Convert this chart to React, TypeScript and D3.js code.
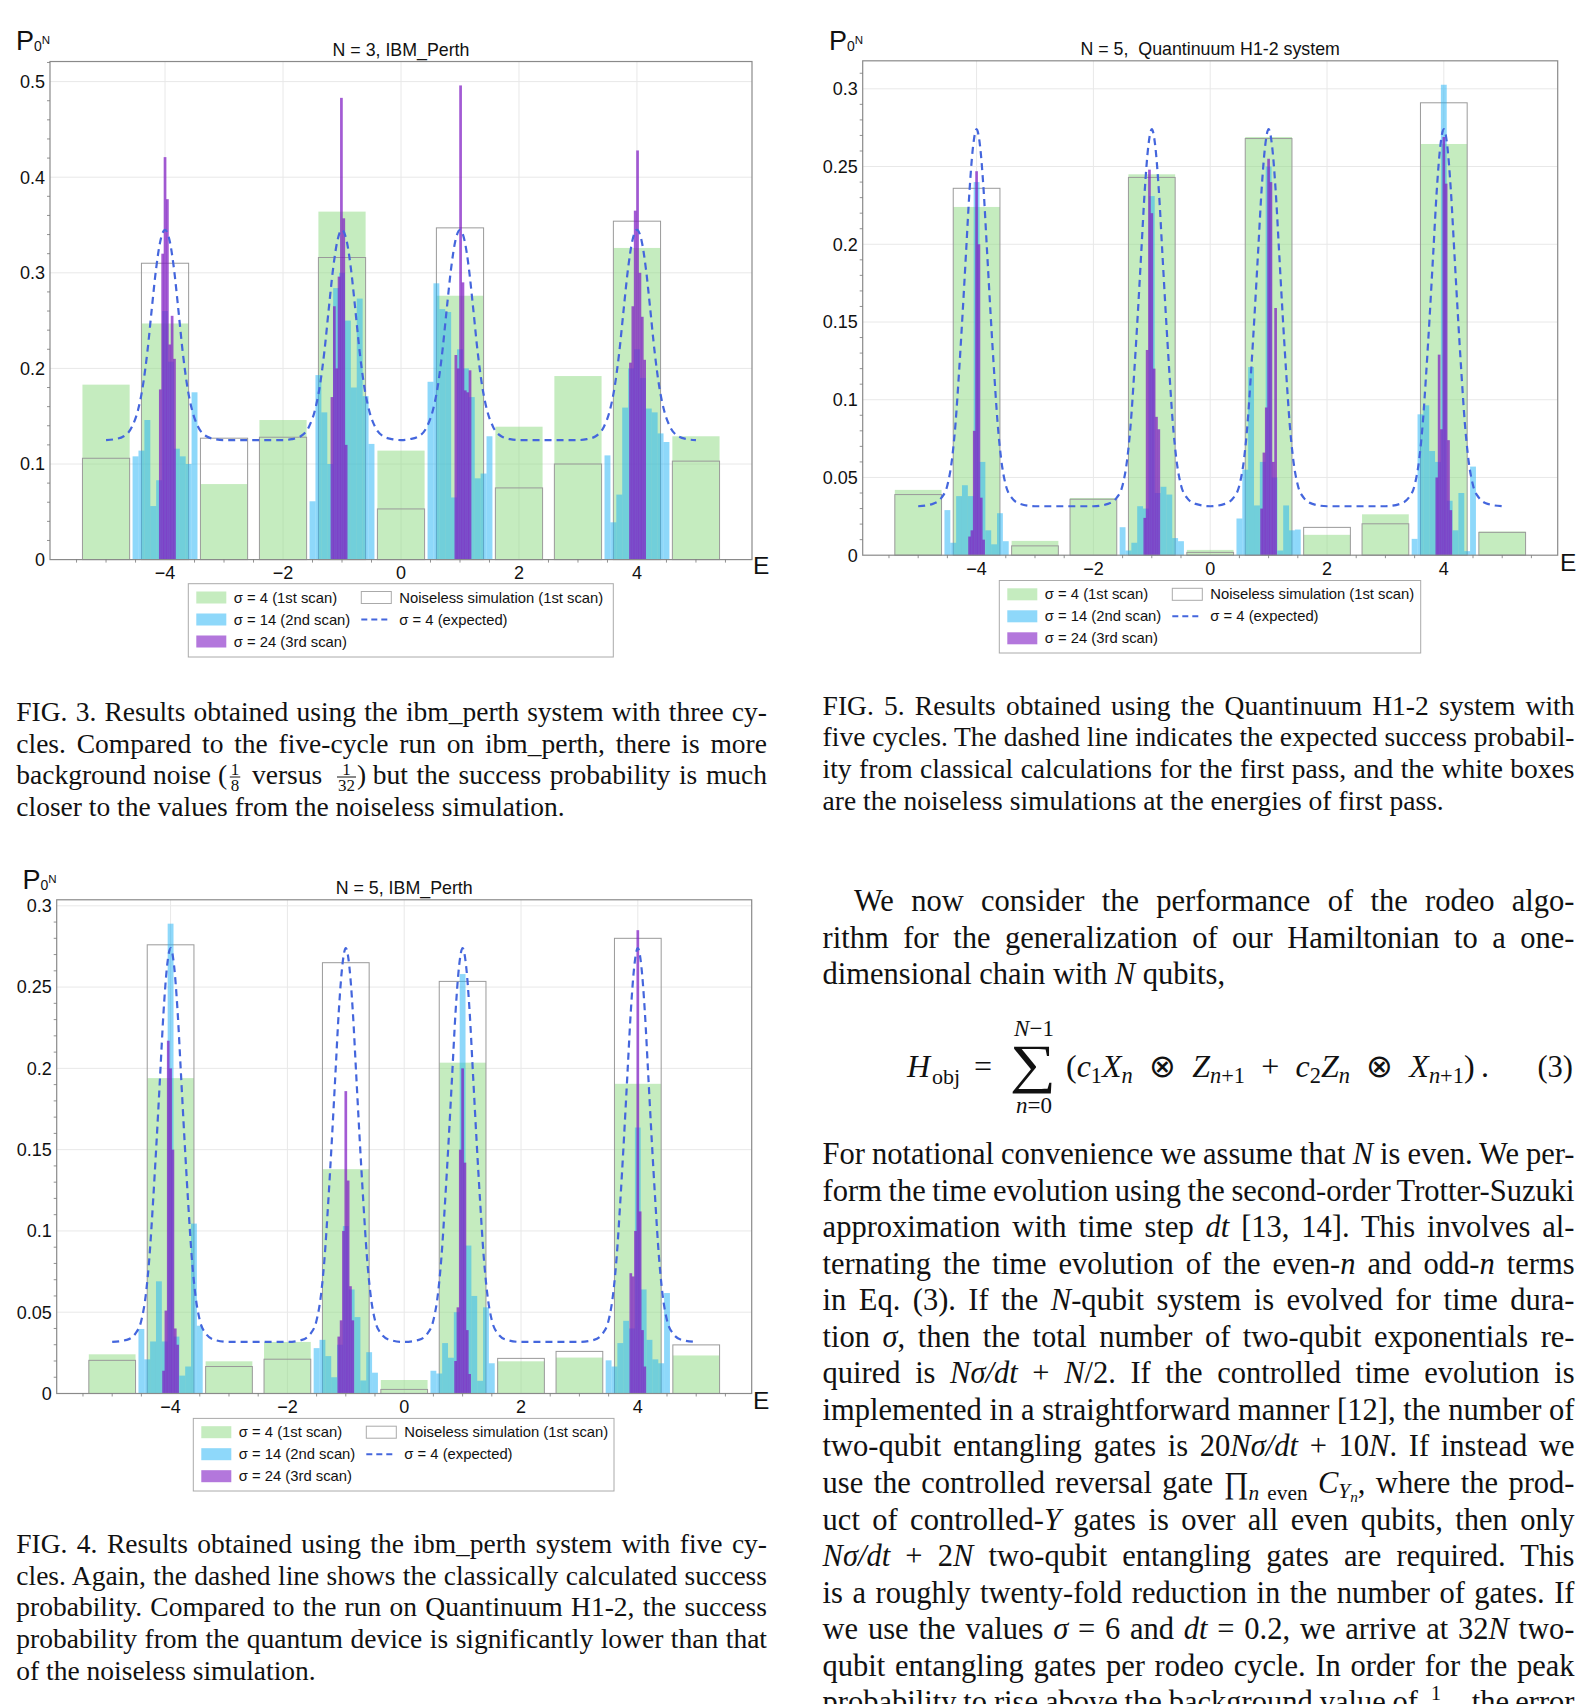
import React, { useLayoutEffect, useRef } from "react";
import * as d3 from "d3";

const PAGE_W = 1594;
const PAGE_H = 1704;

// ------------------------------------------------------------------ data
const BIN_CENTERS = [-5, -4, -3, -2, -1, 0, 1, 2, 3, 4, 5];
const PEAKS = [-4, -1, 1, 4];
const SCAN2_OFFSETS = [-0.5, -0.4, -0.3, -0.2, -0.1, 0, 0.1, 0.2, 0.3, 0.4, 0.5];
const X_TICKS = [-4, -2, 0, 2, 4];
const LEGEND_LABELS = [
  "σ = 4 (1st scan)",
  "σ = 14 (2nd scan)",
  "σ = 24 (3rd scan)",
  "Noiseless simulation (1st scan)",
  "σ = 4 (expected)",
];

// FIG. 3  (N = 3, IBM_Perth)
const F3_SCAN1 = [0.183, 0.247, 0.079, 0.146, 0.364, 0.114, 0.276, 0.139, 0.192, 0.326, 0.129];
const F3_NOISELESS = [0.106, 0.31, 0.127, 0.128, 0.316, 0.053, 0.347, 0.075, 0.1, 0.354, 0.103];
const F3_SCAN2 = [
  [0.108, 0.114, 0.146, 0.056, 0.083, 0.26, 0.207, 0.116, 0.108, 0.1, 0.175],
  [0.061, 0.193, 0.154, 0.1, 0.284, 0.3, 0.25, 0.18, 0.273, 0.171, 0.121],
  [0.186, 0.289, 0.262, 0.259, 0.065, 0.22, 0.2, 0.17, 0.085, 0.09, 0.129],
  [0.109, 0.039, 0.068, 0.159, 0.2, 0.22, 0.19, 0.158, 0.154, 0.132, 0.123],
];
const F3_SCAN3_E = [
  [-4.08, -4.04, -4.0, -3.96, -3.92, -3.88, -3.84],
  [-1.17, -1.13, -1.09, -1.05, -1.01, -0.97, -0.93],
  [0.93, 0.97, 1.01, 1.05, 1.09, 1.13, 1.17],
  [3.89, 3.93, 3.97, 4.01, 4.05, 4.09, 4.13],
];
const F3_SCAN3_P = [
  [0.178, 0.32, 0.421, 0.377, 0.225, 0.255, 0.21],
  [0.17, 0.265, 0.2, 0.296, 0.483, 0.357, 0.12],
  [0.214, 0.2, 0.496, 0.29, 0.177, 0.175, 0.198],
  [0.206, 0.265, 0.365, 0.428, 0.3, 0.254, 0.209],
];
const F3_EXPECTED = [
  [-5.0, 0.125], [-4.85, 0.126], [-4.7, 0.129], [-4.56, 0.139], [-4.46, 0.156], [-4.38, 0.18],
  [-4.3, 0.217], [-4.22, 0.265], [-4.15, 0.305], [-4.08, 0.333], [-4.0, 0.345], [-3.92, 0.333],
  [-3.85, 0.305], [-3.78, 0.265], [-3.7, 0.217], [-3.62, 0.18], [-3.54, 0.156], [-3.44, 0.139],
  [-3.3, 0.129], [-3.15, 0.126], [-3.0, 0.125], [-2.0, 0.125], [-1.85, 0.126], [-1.7, 0.129],
  [-1.56, 0.139], [-1.46, 0.156], [-1.38, 0.18], [-1.3, 0.217], [-1.22, 0.265], [-1.15, 0.305],
  [-1.08, 0.333], [-1.0, 0.345], [-0.92, 0.333], [-0.85, 0.305], [-0.78, 0.265], [-0.7, 0.217],
  [-0.62, 0.18], [-0.54, 0.156], [-0.44, 0.139], [-0.3, 0.129], [-0.15, 0.126], [0.0, 0.125],
  [0.15, 0.126], [0.3, 0.129], [0.44, 0.139], [0.54, 0.156], [0.62, 0.18], [0.7, 0.217],
  [0.78, 0.265], [0.85, 0.305], [0.92, 0.333], [1.0, 0.345], [1.08, 0.333], [1.15, 0.305],
  [1.22, 0.265], [1.3, 0.217], [1.38, 0.18], [1.46, 0.156], [1.56, 0.139], [1.7, 0.129],
  [1.85, 0.126], [2.0, 0.125], [3.0, 0.125], [3.15, 0.126], [3.3, 0.129], [3.44, 0.139],
  [3.54, 0.156], [3.62, 0.18], [3.7, 0.217], [3.78, 0.265], [3.85, 0.305], [3.92, 0.333],
  [4.0, 0.345], [4.08, 0.333], [4.15, 0.305], [4.22, 0.265], [4.3, 0.217], [4.38, 0.18],
  [4.46, 0.156], [4.56, 0.139], [4.7, 0.129], [4.85, 0.126], [5.0, 0.125],
];

// FIG. 5  (N = 5, Quantinuum H1-2)
const F5_SCAN1 = [0.042, 0.224, 0.0092, 0.0368, 0.245, 0.0034, 0.269, 0.0131, 0.0263, 0.2645, 0.0152];
const F5_NOISELESS = [0.039, 0.236, 0.006, 0.036, 0.243, 0.0018, 0.268, 0.0179, 0.0202, 0.291, 0.0147];
const F5_SCAN2 = [
  [0.029, 0.008, 0.038, 0.045, 0.038, 0.24, 0.06, 0.016, 0.007, 0.027, 0.009],
  [0.018, 0.003, 0.008, 0.0315, 0.03, 0.231, 0.04, 0.044, 0.039, 0.011, 0.009],
  [0.0236, 0.055, 0.121, 0.032, 0.06, 0.25, 0.05, 0.003, 0.032, 0.016, 0.0165],
  [0.0105, 0.0906, 0.0964, 0.067, 0.06, 0.3026, 0.035, 0.016, 0.04, 0.0026, 0.057],
];
const F5_SCAN3_E = [
  [-4.12, -4.08, -4.04, -4.0, -3.96, -3.92, -3.88],
  [-1.12, -1.08, -1.04, -1.0, -0.96, -0.92, -0.88],
  [0.88, 0.92, 0.96, 1.0, 1.04, 1.08, 1.12],
  [3.88, 3.92, 3.96, 4.0, 4.04, 4.08, 4.12],
];
const F5_SCAN3_P = [
  [0.012, 0.016, 0.08, 0.247, 0.2, 0.037, 0.01],
  [0.024, 0.132, 0.248, 0.22, 0.12, 0.089, 0.081],
  [0.03, 0.066, 0.095, 0.255, 0.24, 0.06, 0.159],
  [0.05, 0.129, 0.081, 0.269, 0.239, 0.074, 0.029],
];
const F5_EXPECTED = [
  [-5.0, 0.0315], [-4.75, 0.033], [-4.6, 0.037], [-4.5, 0.045], [-4.42, 0.062], [-4.36, 0.085],
  [-4.3, 0.118], [-4.24, 0.155], [-4.18, 0.195], [-4.12, 0.235], [-4.06, 0.263], [-4.0, 0.274],
  [-3.94, 0.263], [-3.88, 0.235], [-3.82, 0.195], [-3.76, 0.155], [-3.7, 0.118], [-3.64, 0.085],
  [-3.58, 0.062], [-3.5, 0.045], [-3.4, 0.037], [-3.25, 0.033], [-3.0, 0.0315], [-2.0, 0.0315],
  [-1.75, 0.033], [-1.6, 0.037], [-1.5, 0.045], [-1.42, 0.062], [-1.36, 0.085], [-1.3, 0.118],
  [-1.24, 0.155], [-1.18, 0.195], [-1.12, 0.235], [-1.06, 0.263], [-1.0, 0.274], [-0.94, 0.263],
  [-0.88, 0.235], [-0.82, 0.195], [-0.76, 0.155], [-0.7, 0.118], [-0.64, 0.085], [-0.58, 0.062],
  [-0.5, 0.045], [-0.4, 0.037], [-0.25, 0.033], [0.0, 0.0315], [0.25, 0.033], [0.4, 0.037],
  [0.5, 0.045], [0.58, 0.062], [0.64, 0.085], [0.7, 0.118], [0.76, 0.155], [0.82, 0.195],
  [0.88, 0.235], [0.94, 0.263], [1.0, 0.274], [1.06, 0.263], [1.12, 0.235], [1.18, 0.195],
  [1.24, 0.155], [1.3, 0.118], [1.36, 0.085], [1.42, 0.062], [1.5, 0.045], [1.6, 0.037],
  [1.75, 0.033], [2.0, 0.0315], [3.0, 0.0315], [3.25, 0.033], [3.4, 0.037], [3.5, 0.045],
  [3.58, 0.062], [3.64, 0.085], [3.7, 0.118], [3.76, 0.155], [3.82, 0.195], [3.88, 0.235],
  [3.94, 0.263], [4.0, 0.274], [4.06, 0.263], [4.12, 0.235], [4.18, 0.195], [4.24, 0.155],
  [4.3, 0.118], [4.36, 0.085], [4.42, 0.062], [4.5, 0.045], [4.6, 0.037], [4.75, 0.033],
  [5.0, 0.0315],
];

// FIG. 4  (N = 5, IBM_Perth)
const F4_SCAN1 = [0.0241, 0.194, 0.0198, 0.0317, 0.138, 0.0083, 0.2035, 0.0198, 0.0221, 0.1905, 0.0234];
const F4_NOISELESS = [0.0204, 0.276, 0.0166, 0.0211, 0.265, 0.0025, 0.2535, 0.0216, 0.0259, 0.28, 0.0299];
const F4_SCAN2 = [
  [0.0397, 0.021, 0.032, 0.069, 0.032, 0.289, 0.035, 0.011, 0.0166, 0.1045, 0.0417],
  [0.0279, 0.033, 0.023, 0.01, 0.03, 0.103, 0.064, 0.047, 0.008, 0.0254, 0.0128],
  [0.014, 0.0123, 0.031, 0.022, 0.05, 0.258, 0.091, 0.06, 0.0078, 0.053, 0.0186],
  [0.0204, 0.0166, 0.031, 0.0447, 0.04, 0.1636, 0.064, 0.033, 0.021, 0.0186, 0.0618],
];
const F4_SCAN3_E = [
  [-4.12, -4.08, -4.04, -4.0, -3.96, -3.92, -3.88],
  [-1.12, -1.08, -1.04, -1.0, -0.96, -0.92, -0.88],
  [0.88, 0.92, 0.96, 1.0, 1.04, 1.08, 1.12],
  [3.88, 3.92, 3.96, 4.0, 4.04, 4.08, 4.12],
];
const F4_SCAN3_P = [
  [0.014, 0.051, 0.217, 0.2, 0.15, 0.04, 0.03],
  [0.035, 0.045, 0.1, 0.186, 0.131, 0.066, 0.045],
  [0.02, 0.053, 0.15, 0.2, 0.142, 0.039, 0.012],
  [0.074, 0.072, 0.1, 0.285, 0.112, 0.039, 0.0166],
];
const F4_EXPECTED = [
  [-5.0, 0.0317], [-4.75, 0.033], [-4.6, 0.037], [-4.5, 0.045], [-4.42, 0.062], [-4.36, 0.085],
  [-4.3, 0.118], [-4.24, 0.155], [-4.18, 0.195], [-4.12, 0.235], [-4.06, 0.263], [-4.0, 0.274],
  [-3.94, 0.263], [-3.88, 0.235], [-3.82, 0.195], [-3.76, 0.155], [-3.7, 0.118], [-3.64, 0.085],
  [-3.58, 0.062], [-3.5, 0.045], [-3.4, 0.037], [-3.25, 0.033], [-3.0, 0.0317], [-2.0, 0.0317],
  [-1.75, 0.033], [-1.6, 0.037], [-1.5, 0.045], [-1.42, 0.062], [-1.36, 0.085], [-1.3, 0.118],
  [-1.24, 0.155], [-1.18, 0.195], [-1.12, 0.235], [-1.06, 0.263], [-1.0, 0.274], [-0.94, 0.263],
  [-0.88, 0.235], [-0.82, 0.195], [-0.76, 0.155], [-0.7, 0.118], [-0.64, 0.085], [-0.58, 0.062],
  [-0.5, 0.045], [-0.4, 0.037], [-0.25, 0.033], [0.0, 0.0317], [0.25, 0.033], [0.4, 0.037],
  [0.5, 0.045], [0.58, 0.062], [0.64, 0.085], [0.7, 0.118], [0.76, 0.155], [0.82, 0.195],
  [0.88, 0.235], [0.94, 0.263], [1.0, 0.274], [1.06, 0.263], [1.12, 0.235], [1.18, 0.195],
  [1.24, 0.155], [1.3, 0.118], [1.36, 0.085], [1.42, 0.062], [1.5, 0.045], [1.6, 0.037],
  [1.75, 0.033], [2.0, 0.0317], [3.0, 0.0317], [3.25, 0.033], [3.4, 0.037], [3.5, 0.045],
  [3.58, 0.062], [3.64, 0.085], [3.7, 0.118], [3.76, 0.155], [3.82, 0.195], [3.88, 0.235],
  [3.94, 0.263], [4.0, 0.274], [4.06, 0.263], [4.12, 0.235], [4.18, 0.195], [4.24, 0.155],
  [4.3, 0.118], [4.36, 0.085], [4.42, 0.062], [4.5, 0.045], [4.6, 0.037], [4.75, 0.033],
  [5.0, 0.0317],
];

const Y_TICKS_A = [0, 0.1, 0.2, 0.3, 0.4, 0.5];
const Y_TICKS_B = [0, 0.05, 0.1, 0.15, 0.2, 0.25, 0.3];

// ------------------------------------------------------------------ styles
const SANS = "'Liberation Sans', Arial, Helvetica, sans-serif";
const SERIF = "'Liberation Serif', 'Times New Roman', Times, serif";
const GREEN = "rgb(140,218,128)";
const GREEN_OP = 0.5;
const BLUE = "rgb(30,178,245)";
const BLUE_OP = 0.5;
const PURPLE = "rgb(128,28,196)";
const PURPLE_OP = 0.72;
const DASH = "#4466dd";
const GRAY = "#9a9a9a";

const GREEN_W = 0.8;
const BLUE_W = 0.1;
const PURPLE_W = 0.046;

type Spec = {
  title: string;
  x0: number;
  x1: number;
  yBottom: number;
  yRefPx: number;
  yRefVal: number;
  yTopVal: number;
  yTicks: number[];
  yMinorStep: number;
  scan1: number[];
  noiseless: number[];
  scan2: number[][];
  scan3E: number[][];
  scan3P: number[][];
  expected: number[][];
  pLabel: [number, number];
  eLabel: [number, number];
  legend: [number, number, number, number];
};

function fmtY(v: number) {
  if (v === 0) return "0";
  return String(+v.toFixed(2));
}
function fmtX(v: number) {
  return v < 0 ? "\u2212" + Math.abs(v) : String(v);
}

function Chart({ s }: { s: Spec }) {
  const xs = d3.scaleLinear().domain([-5.95, 5.95]).range([s.x0, s.x1]);
  const ys = d3.scaleLinear().domain([0, s.yRefVal]).range([s.yBottom, s.yRefPx]);
  const yTop = ys(s.yTopVal);
  const y0 = ys(0);
  const line = d3
    .line<number[]>()
    .x((d) => xs(d[0]))
    .y((d) => ys(d[1]))
    .curve(d3.curveMonotoneX);
  const minorY = d3.range(s.yMinorStep, s.yTopVal, s.yMinorStep).filter(
    (v) => !s.yTicks.some((t) => Math.abs(t - v) < 1e-6)
  );
  const minorX = d3.range(-5.5, 5.51, 0.5).filter((v) => {
    const r = Math.round(v);
    return Math.abs(r - v) > 1e-6 || r % 2 !== 0;
  });
  const bar = (c: number, w: number, v: number) => ({
    x: xs(c - w / 2),
    w: xs(c + w / 2) - xs(c - w / 2),
    y: ys(v),
    h: y0 - ys(v),
  });
  const cx = xs(0);
  const [lx, ly, lw, lh] = s.legend;
  const rows = [ly + 13.8, ly + 35.8, ly + 57.8];
  return (
    <g>
      {X_TICKS.map((t) => (
        <line key={"gx" + t} x1={xs(t)} x2={xs(t)} y1={yTop} y2={y0} stroke="#e8e8e8" strokeWidth={1} />
      ))}
      {s.yTicks
        .filter((t) => t > 0)
        .map((t) => (
          <line key={"gy" + t} x1={s.x0} x2={s.x1} y1={ys(t)} y2={ys(t)} stroke="#e8e8e8" strokeWidth={1} />
        ))}
      {BIN_CENTERS.map((c, i) => {
        const b = bar(c, GREEN_W, s.scan1[i]);
        return <rect key={"g" + i} x={b.x} y={b.y} width={b.w} height={b.h} fill={GREEN} fillOpacity={GREEN_OP} />;
      })}
      {BIN_CENTERS.map((c, i) => {
        const b = bar(c, GREEN_W, s.noiseless[i]);
        return (
          <rect key={"n" + i} x={b.x} y={b.y} width={b.w} height={b.h} fill="none" stroke={GRAY} strokeWidth={1} />
        );
      })}
      {PEAKS.map((p, k) =>
        SCAN2_OFFSETS.map((o, i) => {
          const b = bar(p + o, BLUE_W, s.scan2[k][i]);
          return (
            <rect key={"b" + k + "_" + i} x={b.x} y={b.y} width={b.w} height={b.h} fill={BLUE} fillOpacity={BLUE_OP} />
          );
        })
      )}
      {s.scan3E.map((es, k) =>
        es.map((e, i) => {
          const b = bar(e, PURPLE_W, s.scan3P[k][i]);
          return (
            <rect
              key={"p" + k + "_" + i}
              x={b.x}
              y={b.y}
              width={b.w}
              height={b.h}
              fill={PURPLE}
              fillOpacity={PURPLE_OP}
            />
          );
        })
      )}
      <path d={line(s.expected) || ""} fill="none" stroke={DASH} strokeWidth={2.2} strokeDasharray="7,5" />
      <rect x={s.x0} y={yTop} width={s.x1 - s.x0} height={y0 - yTop} fill="none" stroke="#8a8a8a" strokeWidth={1.2} />
      {minorY.map((v) => (
        <line key={"my" + v} x1={s.x0 - 3} x2={s.x0} y1={ys(v)} y2={ys(v)} stroke="#777" strokeWidth={0.8} />
      ))}
      {minorX.map((v) => (
        <line key={"mx" + v} x1={xs(v)} x2={xs(v)} y1={y0} y2={y0 + 3} stroke="#777" strokeWidth={0.8} />
      ))}
      {s.yTicks.map((t) => (
        <text
          key={"ty" + t}
          x={s.x0 - 5}
          y={ys(t)}
          dy="0.35em"
          textAnchor="end"
          fontFamily={SANS}
          fontSize={18}
          fill="#111"
        >
          {fmtY(t)}
        </text>
      ))}
      {X_TICKS.map((t) => (
        <text key={"tx" + t} x={xs(t)} y={y0 + 19.5} textAnchor="middle" fontFamily={SANS} fontSize={18} fill="#111">
          {fmtX(t)}
        </text>
      ))}
      <text x={cx} y={yTop - 5.5} textAnchor="middle" fontFamily={SANS} fontSize={17.8} fill="#111" xmlSpace="preserve">
        {s.title}
      </text>
      <text x={s.pLabel[0]} y={s.pLabel[1]} fontFamily={SANS} fontSize={27} fill="#111">
        P
        <tspan fontSize={14} dy={1}>
          0
        </tspan>
        <tspan fontSize={11.5} dy={-7}>
          N
        </tspan>
      </text>
      <text x={s.eLabel[0]} y={s.eLabel[1]} fontFamily={SANS} fontSize={24.5} fill="#111">
        E
      </text>
      <rect x={lx} y={ly} width={lw} height={lh} fill="#fff" stroke="#aaa" strokeWidth={1} />
      <rect x={lx + 8} y={rows[0] - 6} width={30} height={12} fill={GREEN} fillOpacity={GREEN_OP} />
      <rect x={lx + 8} y={rows[1] - 6} width={30} height={12} fill={BLUE} fillOpacity={BLUE_OP} />
      <rect x={lx + 8} y={rows[2] - 6} width={30} height={12} fill={PURPLE} fillOpacity={0.6} />
      <rect x={lx + 173} y={rows[0] - 6} width={30} height={12} fill="#fff" stroke="#aaa" strokeWidth={1} />
      <line x1={lx + 173} x2={lx + 203} y1={rows[1]} y2={rows[1]} stroke={DASH} strokeWidth={2} strokeDasharray="6,4" />
      {[0, 1, 2].map((r) => (
        <text key={"l" + r} x={lx + 45.5} y={rows[r] + 5} fontFamily={SANS} fontSize={14.8} fill="#111">
          {LEGEND_LABELS[r]}
        </text>
      ))}
      {[3, 4].map((r, j) => (
        <text key={"l" + r} x={lx + 211} y={rows[j] + 5} fontFamily={SANS} fontSize={14.8} fill="#111">
          {LEGEND_LABELS[r]}
        </text>
      ))}
    </g>
  );
}

// ------------------------------------------------------------------ text helpers
type Seg = { t: string; i?: boolean; dy?: number; fs?: number };

function RichLine({
  x,
  y,
  size,
  width,
  segs,
  anchor,
}: {
  x: number;
  y: number;
  size: number;
  width?: number;
  segs: Seg[];
  anchor?: string;
}) {
  const ref = useRef<SVGTextElement>(null);
  useLayoutEffect(() => {
    const el = ref.current;
    if (!el || !width) return;
    el.style.wordSpacing = "0px";
    el.removeAttribute("textLength");
    const nat = el.getComputedTextLength();
    const spaces = ((el.textContent || "").match(/ /g) || []).length;
    if (spaces > 0) el.style.wordSpacing = (width - nat) / spaces + "px";
    const after = el.getComputedTextLength();
    if (Math.abs(after - width) > 3) {
      el.style.wordSpacing = "0px";
      el.setAttribute("textLength", String(width));
      el.setAttribute("lengthAdjust", "spacing");
    }
  }, [width]);
  let prev = 0;
  return (
    <text ref={ref} x={x} y={y} fontFamily={SERIF} fontSize={size} fill="#111" textAnchor={anchor}>
      {segs.map((sg, k) => {
        const shift = sg.dy || 0;
        const d = shift - prev;
        prev = shift;
        return (
          <tspan
            key={k}
            dy={d !== 0 ? d : undefined}
            fontStyle={sg.i ? "italic" : undefined}
            fontSize={sg.fs ? size * sg.fs : undefined}
          >
            {sg.t}
          </tspan>
        );
      })}
    </text>
  );
}

const r = (t: string): Seg => ({ t });
const it = (t: string): Seg => ({ t, i: true });

const CAP = 27.5;
const BODY = 30.5;
const LCOL = [16.3, 767];
const RCOL = [822.6, 1574.5];

const FIG3_LINES: (Seg[] | null)[] = [
  [r("FIG. 3. Results obtained using the ibm_perth system with three cy-")],
  [r("cles. Compared to the five-cycle run on ibm_perth, there is more")],
  null,
  [r("closer to the values from the noiseless simulation.")],
];
const FIG5_LINES: Seg[][] = [
  [r("FIG. 5. Results obtained using the Quantinuum H1-2 system with")],
  [r("five cycles. The dashed line indicates the expected success probabil-")],
  [r("ity from classical calculations for the first pass, and the white boxes")],
  [r("are the noiseless simulations at the energies of first pass.")],
];
const FIG4_LINES: Seg[][] = [
  [r("FIG. 4. Results obtained using the ibm_perth system with five cy-")],
  [r("cles. Again, the dashed line shows the classically calculated success")],
  [r("probability. Compared to the run on Quantinuum H1-2, the success")],
  [r("probability from the quantum device is significantly lower than that")],
  [r("of the noiseless simulation.")],
];
const PARA1: Seg[][] = [
  [r("We now consider the performance of the rodeo algo-")],
  [r("rithm for the generalization of our Hamiltonian to a one-")],
  [r("dimensional chain with "), it("N"), r(" qubits,")],
];
const PARA2: Seg[][] = [
  [r("For notational convenience we assume that "), it("N"), r(" is even. We per-")],
  [r("form the time evolution using the second-order Trotter-Suzuki")],
  [r("approximation with time step "), it("dt"), r(" [13, 14]. This involves al-")],
  [r("ternating the time evolution of the even-"), it("n"), r(" and odd-"), it("n"), r(" terms")],
  [r("in Eq. (3). If the "), it("N"), r("-qubit system is evolved for time dura-")],
  [r("tion "), it("σ"), r(", then the total number of two-qubit exponentials re-")],
  [r("quired is "), it("Nσ/dt"), r(" + "), it("N"), r("/2. If the controlled time evolution is")],
  [r("implemented in a straightforward manner [12], the number of")],
  [r("two-qubit entangling gates is 20"), it("Nσ/dt"), r(" + 10"), it("N"), r(". If instead we")],
  [
    r("use the controlled reversal gate \u220F"),
    { t: "n", i: true, dy: 7, fs: 0.7 },
    { t: " even", dy: 7, fs: 0.7 },
    { t: " C", i: true },
    { t: "Y", i: true, dy: 5, fs: 0.7 },
    { t: "n", i: true, dy: 9, fs: 0.5 },
    r(", where the prod-"),
  ],
  [r("uct of controlled-"), it("Y"), r(" gates is over all even qubits, then only")],
  [it("Nσ/dt"), r(" + 2"), it("N"), r(" two-qubit entangling gates are required. This")],
  [r("is a roughly twenty-fold reduction in the number of gates. If")],
  [r("we use the values "), it("σ"), r(" = 6 and "), it("dt"), r(" = 0.2, we arrive at 32"), it("N"), r(" two-")],
  [r("qubit entangling gates per rodeo cycle. In order for the peak")],
];

function Fraction({ x, y, num, den, size }: { x: number; y: number; num: string; den: string; size: number }) {
  const w = den.length * size * 0.5 + 2;
  return (
    <g>
      <text x={x} y={y - 9} textAnchor="middle" fontFamily={SERIF} fontSize={size} fill="#111">
        {num}
      </text>
      <line x1={x - w / 2} x2={x + w / 2} y1={y - 7} y2={y - 7} stroke="#111" strokeWidth={1} />
      <text x={x} y={y + 7} textAnchor="middle" fontFamily={SERIF} fontSize={size} fill="#111">
        {den}
      </text>
    </g>
  );
}

const SPEC3: Spec = {
  title: "N = 3, IBM_Perth",
  x0: 50,
  x1: 752,
  yBottom: 559.6,
  yRefPx: 81.6,
  yRefVal: 0.5,
  yTopVal: 0.521,
  yTicks: Y_TICKS_A,
  yMinorStep: 0.02,
  scan1: F3_SCAN1,
  noiseless: F3_NOISELESS,
  scan2: F3_SCAN2,
  scan3E: F3_SCAN3_E,
  scan3P: F3_SCAN3_P,
  expected: F3_EXPECTED,
  pLabel: [16, 49.5],
  eLabel: [753, 573.5],
  legend: [188.3, 583.7, 425, 73.3],
};
const SPEC5: Spec = {
  title: "N = 5,  Quantinuum H1-2 system",
  x0: 862.7,
  x1: 1557.7,
  yBottom: 555.2,
  yRefPx: 88.8,
  yRefVal: 0.3,
  yTopVal: 0.318,
  yTicks: Y_TICKS_B,
  yMinorStep: 0.01,
  scan1: F5_SCAN1,
  noiseless: F5_NOISELESS,
  scan2: F5_SCAN2,
  scan3E: F5_SCAN3_E,
  scan3P: F5_SCAN3_P,
  expected: F5_EXPECTED,
  pLabel: [829, 50],
  eLabel: [1560, 571],
  legend: [999.3, 580.5, 421.4, 72.5],
};
const SPEC4: Spec = {
  title: "N = 5, IBM_Perth",
  x0: 56.7,
  x1: 751.7,
  yBottom: 1393.5,
  yRefPx: 905.8,
  yRefVal: 0.3,
  yTopVal: 0.3037,
  yTicks: Y_TICKS_B,
  yMinorStep: 0.01,
  scan1: F4_SCAN1,
  noiseless: F4_NOISELESS,
  scan2: F4_SCAN2,
  scan3E: F4_SCAN3_E,
  scan3P: F4_SCAN3_P,
  expected: F4_EXPECTED,
  pLabel: [22.5, 889],
  eLabel: [753, 1409],
  legend: [193.3, 1418.4, 420.7, 72.6],
};

export default function App() {
  const capW = LCOL[1] - LCOL[0];
  const rW = RCOL[1] - RCOL[0];
  return (
    <svg
      width={PAGE_W}
      height={PAGE_H}
      viewBox={`0 0 ${PAGE_W} ${PAGE_H}`}
      style={{ position: "absolute", left: 0, top: 0, background: "#fff" }}
    >
      <rect x={0} y={0} width={PAGE_W} height={PAGE_H} fill="#fff" />
      <Chart s={SPEC3} />
      <Chart s={SPEC5} />
      <Chart s={SPEC4} />

      {FIG3_LINES.map((segs, k) =>
        segs ? (
          <RichLine
            key={"f3" + k}
            x={LCOL[0]}
            y={721 + 31.5 * k}
            size={CAP}
            width={k < 3 ? capW : undefined}
            segs={segs}
          />
        ) : null
      )}
      <RichLine x={LCOL[0]} y={784} size={CAP} segs={[r("background noise (")]} />
      <Fraction x={235} y={784} num="1" den="8" size={17} />
      <RichLine x={252} y={784} size={CAP} segs={[r("versus")]} />
      <Fraction x={346.5} y={784} num="1" den="32" size={17} />
      <RichLine x={357} y={784} size={CAP} segs={[r(")")]} />
      <RichLine
        x={372.7}
        y={784}
        size={CAP}
        width={LCOL[1] - 372.7}
        segs={[r("but the success probability is much")]}
      />

      {FIG5_LINES.map((segs, k) => (
        <RichLine
          key={"f5" + k}
          x={RCOL[0]}
          y={714.5 + 31.8 * k}
          size={CAP}
          width={k < 3 ? rW : undefined}
          segs={segs}
        />
      ))}

      {PARA1.map((segs, k) => (
        <RichLine
          key={"p1" + k}
          x={k === 0 ? 854 : RCOL[0]}
          y={911 + 36.5 * k}
          size={BODY}
          width={k === 0 ? RCOL[1] - 854 : k === 1 ? rW : undefined}
          segs={segs}
        />
      ))}

      {/* equation (3) */}
      <text x={907} y={1077} fontFamily={SERIF} fontSize={32} fontStyle="italic" fill="#111">
        H
      </text>
      <text x={932} y={1084} fontFamily={SERIF} fontSize={22} fill="#111">
        obj
      </text>
      <text x={974} y={1077} fontFamily={SERIF} fontSize={32} fill="#111">
        =
      </text>
      <text
        transform="translate(1033,1082) scale(1.2,1)"
        x={0}
        y={0}
        textAnchor="middle"
        fontFamily={SERIF}
        fontSize={54}
        fill="#111"
      >
        {"\u2211"}
      </text>
      <text x={1034} y={1036} textAnchor="middle" fontFamily={SERIF} fontSize={23} fill="#111">
        <tspan fontStyle="italic">N</tspan>
        {"\u22121"}
      </text>
      <text x={1034} y={1113} textAnchor="middle" fontFamily={SERIF} fontSize={23} fill="#111">
        <tspan fontStyle="italic">n</tspan>
        {"=0"}
      </text>
      <RichLine
        x={1066}
        y={1077}
        size={32}
        width={423}
        segs={[
          r("("),
          it("c"),
          { t: "1", dy: 6, fs: 0.7 },
          it("X"),
          { t: "n", i: true, dy: 6, fs: 0.7 },
          r(" \u2297 "),
          it("Z"),
          { t: "n", i: true, dy: 6, fs: 0.7 },
          { t: "+1", dy: 6, fs: 0.7 },
          r(" + "),
          it("c"),
          { t: "2", dy: 6, fs: 0.7 },
          it("Z"),
          { t: "n", i: true, dy: 6, fs: 0.7 },
          r(" \u2297 "),
          it("X"),
          { t: "n", i: true, dy: 6, fs: 0.7 },
          { t: "+1", dy: 6, fs: 0.7 },
          r(")\u2009."),
        ]}
      />
      <text x={1573} y={1077} textAnchor="end" fontFamily={SERIF} fontSize={BODY} fill="#111">
        (3)
      </text>

      {PARA2.map((segs, k) => (
        <RichLine key={"p2" + k} x={RCOL[0]} y={1164 + 36.55 * k} size={BODY} width={rW} segs={segs} />
      ))}
      <RichLine
        x={RCOL[0]}
        y={1164 + 36.55 * 15}
        size={BODY}
        width={1418 - RCOL[0]}
        segs={[r("probability to rise above the background value of")]}
      />
      <text x={1436} y={1700} textAnchor="middle" fontFamily={SERIF} fontSize={20} fill="#111">
        1
      </text>
      <RichLine
        x={1458}
        y={1164 + 36.55 * 15}
        size={BODY}
        width={RCOL[1] - 1458}
        segs={[r(", the error")]}
      />

      {FIG4_LINES.map((segs, k) => (
        <RichLine
          key={"f4" + k}
          x={LCOL[0]}
          y={1553 + 31.7 * k}
          size={CAP}
          width={k < 4 ? capW : undefined}
          segs={segs}
        />
      ))}
    </svg>
  );
}
